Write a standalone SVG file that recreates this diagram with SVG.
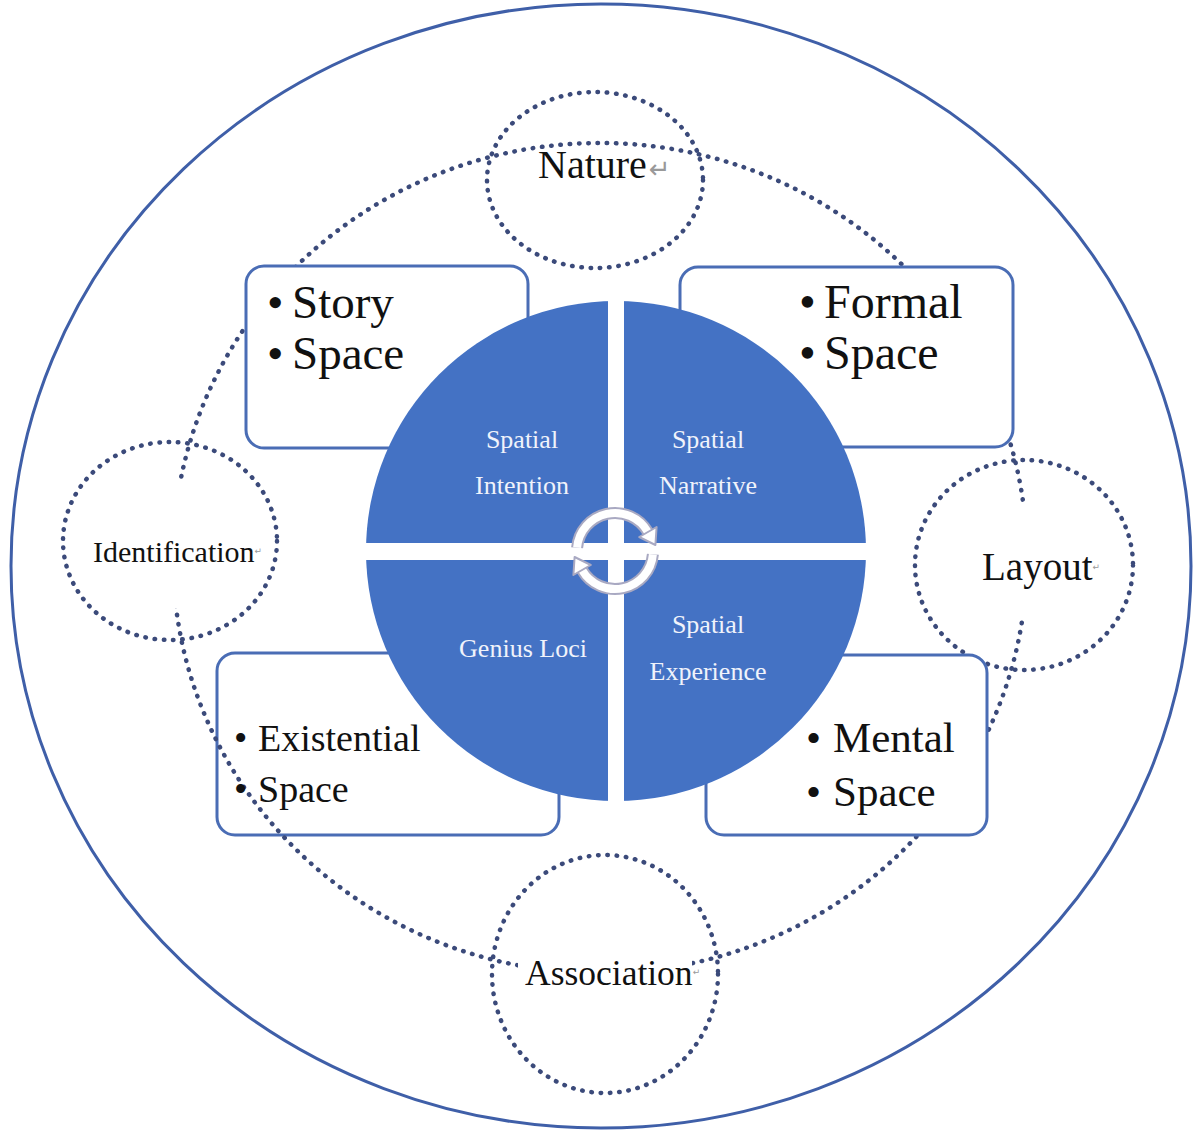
<svg xmlns="http://www.w3.org/2000/svg" width="1200" height="1134" viewBox="0 0 1200 1134">
<style>
.dot{fill:none;stroke:#3b4a7a;stroke-width:4.5;stroke-dasharray:0.5 8.8;stroke-linecap:round}
.box{fill:#fff;stroke:#4a6db5;stroke-width:3}
.lbl{font-family:"Liberation Serif","Times New Roman",serif;fill:#111}
.mark{font-family:"DejaVu Sans",sans-serif;fill:#999}
.q{font-family:"Liberation Serif","Times New Roman",serif;fill:#f0f3fb;font-size:26px;text-anchor:middle}
.arc{fill:none;stroke:#a9a9c2;stroke-width:12}
.arcw{fill:none;stroke:#fff;stroke-width:8}
.head{fill:#fff;stroke:#a9a9c2;stroke-width:2;stroke-linejoin:round}
</style>
<rect width="1200" height="1134" fill="#fff"/>
<g id="outer-circle">
<ellipse cx="601" cy="566" rx="590" ry="562" fill="none" stroke="#3f5fa8" stroke-width="3"/>
</g>
<g id="box-existential">
<rect x="217" y="653" width="342" height="182" rx="18" class="box"/>
</g>
<g id="connectors">
<ellipse cx="600" cy="558" rx="427" ry="415" class="dot"/>
<rect x="150" y="482" width="50" height="126" fill="#fff"/>
<rect x="995" y="502" width="45" height="116" fill="#fff"/>
<rect x="518" y="958" width="174" height="32" fill="#fff"/>
</g>
<g id="node-nature">
<ellipse cx="595" cy="180" rx="108" ry="88" class="dot"/>
<text x="538" y="178" class="lbl" font-size="40">Nature<tspan class="mark" font-size="26" dx="2">↵</tspan></text>
</g>
<g id="node-identification">
<ellipse cx="170" cy="541" rx="107" ry="99" class="dot"/>
<text x="93" y="562" class="lbl" font-size="30">Identification<tspan class="mark" font-size="9" dy="-8">↵</tspan></text>
</g>
<g id="node-layout">
<ellipse cx="1024" cy="565" rx="109" ry="105" class="dot"/>
<text x="982" y="580" class="lbl" font-size="39">Layout<tspan class="mark" font-size="9" dy="-10">↵</tspan></text>
</g>
<g id="node-association">
<ellipse cx="605" cy="974" rx="113" ry="119" class="dot"/>
<text x="525" y="985" class="lbl" font-size="35.5">Association<tspan class="mark" font-size="9" dy="-10">↵</tspan></text>
</g>
<g id="box-story">
<rect x="246" y="266" width="282" height="182" rx="18" class="box"/>
</g>
<g id="box-formal">
<rect x="680" y="267" width="333" height="180" rx="18" class="box"/>
</g>
<g id="box-mental">
<rect x="706" y="655" width="281" height="180" rx="18" class="box"/>
</g>
<g id="center-circle">
<circle cx="616" cy="551" r="250" fill="#4472c4"/>
<rect x="608" y="300" width="16" height="502" fill="#fff"/>
<rect x="365" y="543" width="503" height="17" fill="#fff"/>
<text class="q" x="522" y="448">Spatial</text>
<text class="q" x="522" y="494">Intention</text>
<text class="q" x="708" y="448">Spatial</text>
<text class="q" x="708" y="494">Narrative</text>
<text class="q" x="523" y="657">Genius Loci</text>
<text class="q" x="708" y="633">Spatial</text>
<text class="q" x="708" y="680">Experience</text>
</g>
<g id="cycle-arrows">
<path class="arc" d="M577.1 547.7 A38 38 0 0 1 647.9 532"/>
<path class="arc" d="M652.9 554.3 A38 38 0 0 1 582.1 570"/>
<path class="arcw" d="M577.1 547.7 A38 38 0 0 1 647.9 532"/>
<path class="arcw" d="M652.9 554.3 A38 38 0 0 1 582.1 570"/>
<polygon class="head" points="656.6,527 655.4,545 639.2,537"/>
<polygon class="head" points="573.4,575 574.6,557 590.8,565"/>
</g>
<g id="box-texts">
<text class="lbl" font-size="47"><tspan x="267" y="318">•</tspan><tspan x="292" y="318">Story</tspan><tspan x="267" y="369">•</tspan><tspan x="292" y="369">Space</tspan></text>
<text class="lbl" font-size="48"><tspan x="799" y="318">•</tspan><tspan x="824" y="318">Formal</tspan><tspan x="799" y="369">•</tspan><tspan x="824" y="369">Space</tspan></text>
<text class="lbl" font-size="38"><tspan x="234" y="751">•</tspan><tspan x="258" y="751">Existential</tspan><tspan x="234" y="802">•</tspan><tspan x="258" y="802">Space</tspan></text>
<text class="lbl" font-size="43"><tspan x="806" y="752">•</tspan><tspan x="833" y="752">Mental</tspan><tspan x="806" y="806">•</tspan><tspan x="833" y="806">Space</tspan></text>
</g>
</svg>
